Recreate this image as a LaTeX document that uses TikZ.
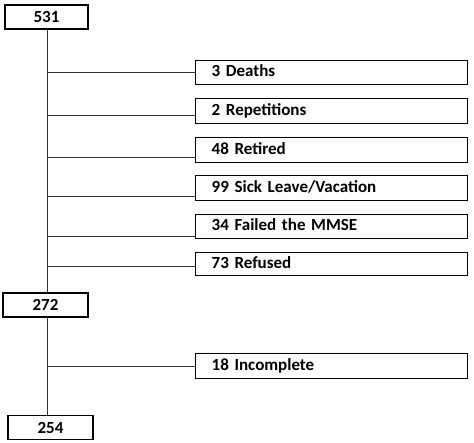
\documentclass[tikz,border=0pt]{standalone}
\usepackage{fontspec}
\setmainfont{Carlito}
\begin{document}
\begin{tikzpicture}[x=1pt,y=-1pt,
  box/.style={draw=black, line width=1.3pt, inner sep=0pt, font=\bfseries\fontsize{17}{19}\selectfont},
  numbox/.style={box, minimum height=24pt, text height=12pt, text depth=0pt},
  sidebox/.style={box, anchor=north west, minimum width=272pt, text width=272pt, align=left, text height=12pt, text depth=3.5pt},
  conn/.style={draw=black!80, line width=0.9pt}]
\useasboundingbox (0,0) rectangle (474,443);
% count boxes
\node[numbox, minimum width=83pt] (n531) at (46.5,17) {531};
\node[numbox, minimum width=85pt] (n272) at (45.5,305) {272};
\node[numbox, minimum width=85pt] (n254) at (50.5,427.5) {254};
% side boxes
\node[sidebox, minimum height=24pt] (d1) at (195,60) {\hspace*{16pt}3 Deaths};
\node[sidebox, minimum height=25pt] (d2) at (195,98) {\hspace*{16pt}2 Repetitions};
\node[sidebox, minimum height=25pt] (d3) at (195,137) {\hspace*{16pt}48 Retired};
\node[sidebox, minimum height=25pt] (d4) at (195,175) {\hspace*{16pt}99 Sick Leave/Vacation};
\node[sidebox, minimum height=24pt] (d5) at (195,214) {\hspace*{16pt}34 Failed the MMSE};
\node[sidebox, minimum height=23pt] (d6) at (195,252) {\hspace*{16pt}73 Refused};
\node[sidebox, minimum height=25pt] (d7) at (195,353) {\hspace*{16pt}18 Incomplete};
% trunk coordinates
\coordinate (t1) at (47.5,72);
\coordinate (t2) at (47.5,115.5);
\coordinate (t3) at (47.5,157);
\coordinate (t4) at (47.5,196);
\coordinate (t5) at (47.5,236);
\coordinate (t6) at (47.5,266);
\coordinate (t7) at (47.5,366);
% trunk lines
\draw[conn] (n531.south -| t1) -- (n272.north -| t1);
\draw[conn] (n272.south -| t1) -- (n254.north -| t1);
% branches
\foreach \i in {1,...,7} {
  \draw[conn] (t\i) -- (t\i -| d\i.west);
}
\end{tikzpicture}
\end{document}
